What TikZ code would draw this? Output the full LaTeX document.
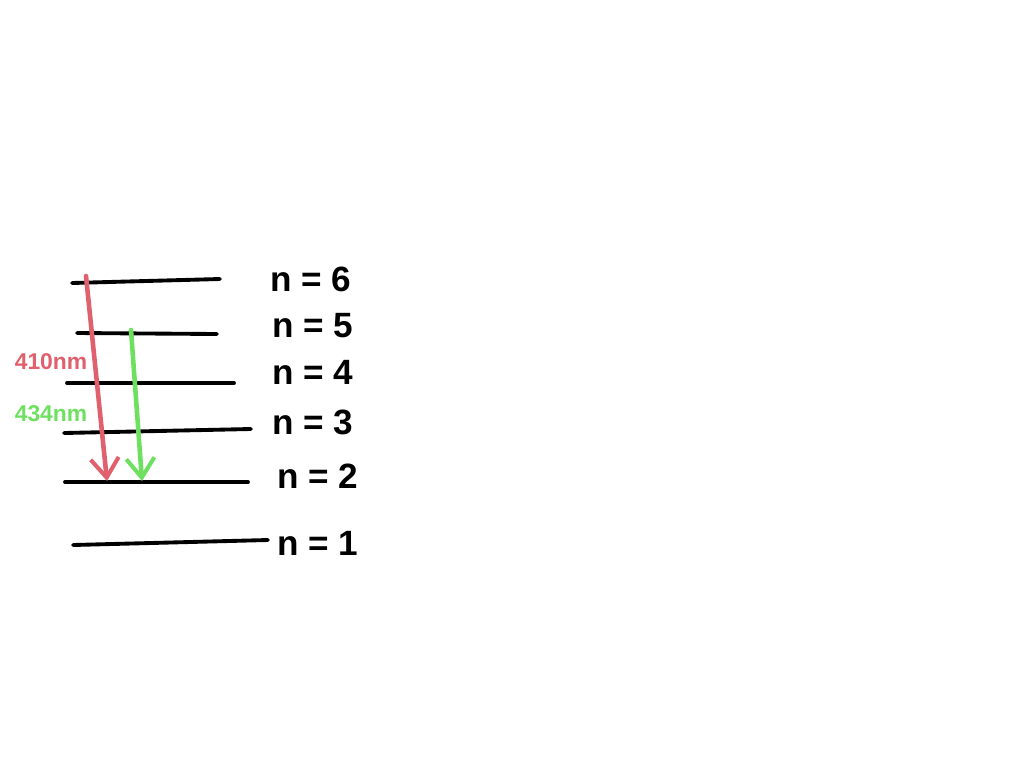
\documentclass[tikz,border=0pt]{standalone}
\usepackage{fontspec}
\setmainfont{Liberation Sans}
\usepackage{xcolor}
\usetikzlibrary{positioning,arrows.meta,calc}

\definecolor{redline}{RGB}{224,96,110}
\definecolor{greenline}{RGB}{110,224,96}

\begin{document}
\begin{tikzpicture}[
    x=0.02cm, y=-0.02cm,
    level/.style={line width=2.2pt, line cap=round, black},
    lvlabel/.style={font=\fontsize{20}{24}\selectfont\bfseries, anchor=center, inner sep=0pt},
    trans/.style={-{Straight Barb[length=11pt, width=16pt, line width=2.3pt]}, line width=2.6pt, line cap=round},
    wave/.style={font=\fontsize{13}{15}\selectfont\bfseries, anchor=center, inner sep=0pt}
]

% Frame
\useasboundingbox (0,0) rectangle (1024,768);

% Energy levels
\coordinate (l6a) at (72,283);  \coordinate (l6b) at (220,279);
\coordinate (l5a) at (77,333);  \coordinate (l5b) at (217,334);
\coordinate (l4a) at (67,383);  \coordinate (l4b) at (234,383);
\coordinate (l3a) at (64,433);  \coordinate (l3b) at (251,429);
\coordinate (l2a) at (65,482);  \coordinate (l2b) at (248,482);
\coordinate (l1a) at (73,545);  \coordinate (l1b) at (268,540);

\draw[level] (l6a) -- (l6b);
\draw[level] (l5a) -- (l5b);
\draw[level] (l4a) -- (l4b);
\draw[level] (l3a) -- (l3b);
\draw[level] (l2a) -- (l2b);
\draw[level] (l1a) -- (l1b);

% Level labels
\node[lvlabel] (n6) at (311,279) {n = 6};
\node[lvlabel] (n5) at (313,326) {n = 5};
\node[lvlabel] (n4) at (313,372) {n = 4};
\node[lvlabel] (n3) at (313,422) {n = 3};
\node[lvlabel] (n2) at (318,476) {n = 2};
\node[lvlabel] (n1) at (318,543) {n = 1};

% Transitions
\coordinate (r0) at (86,276);
\coordinate (r1) at (107,481);
\coordinate (g0) at (131,330);
\coordinate (g1) at (142,481);
\draw[trans, redline] (r0) -- (r1);
\draw[trans, greenline] (g0) -- (g1);

% Wavelengths
\node[wave, text=redline] (w410) at (51,362) {410nm};
\node[wave, text=greenline] (w434) at (51,414) {434nm};

\end{tikzpicture}
\end{document}
